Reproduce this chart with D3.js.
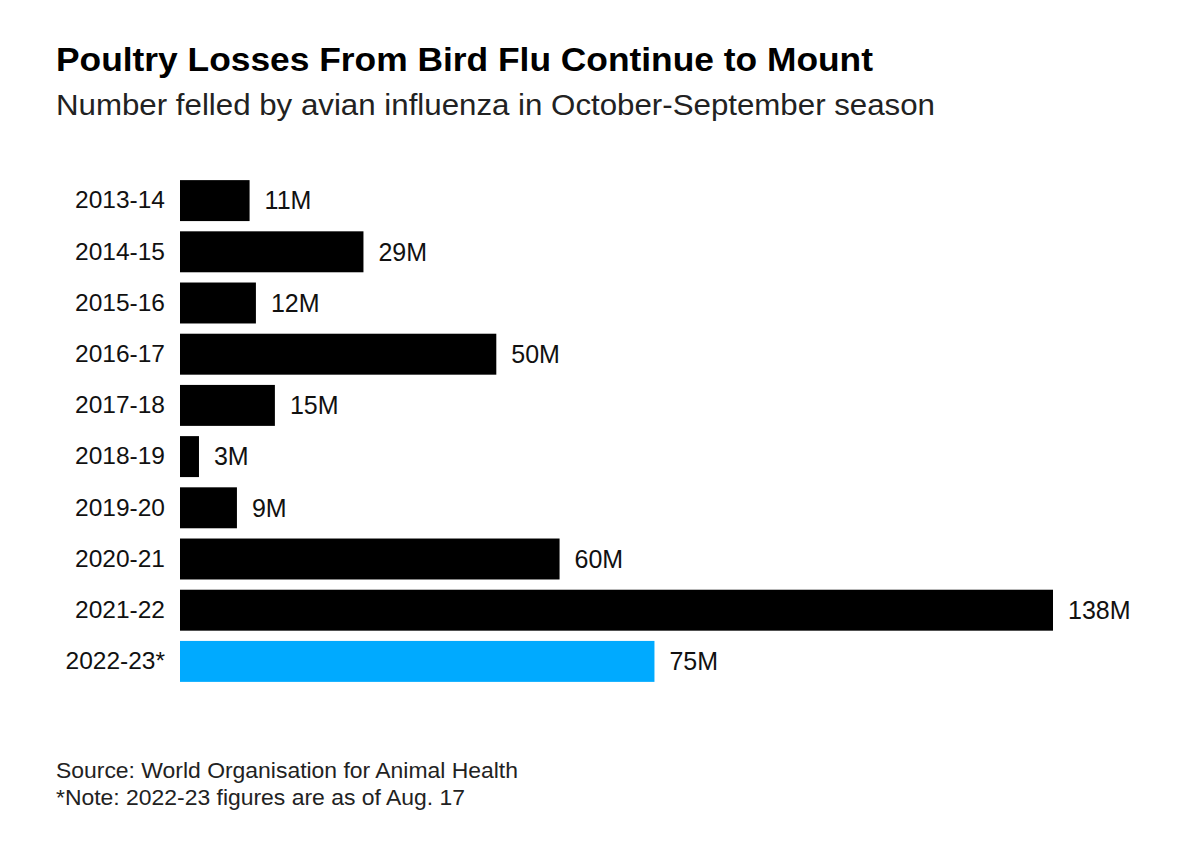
<!DOCTYPE html>
<html><head><meta charset="utf-8">
<script src="https://cdn.jsdelivr.net/npm/d3@7"></script>
<style>
body{margin:0;background:#fff;}
text{font-family:"Liberation Sans",Arial,sans-serif;}
</style></head>
<body>
<svg id="c" width="1200" height="845"></svg>
<script>
const seasons = ["2013-14","2014-15","2015-16","2016-17","2017-18","2018-19","2019-20","2020-21","2021-22","2022-23*"];
const losses = [11,29,12,50,15,3,9,60,138,75];
const highlight = [false,false,false,false,false,false,false,false,false,true];

const svg = d3.select("#c");
svg.append("rect").attr("width",1200).attr("height",845).attr("fill","#fff");

svg.append("text").attr("x",56).attr("y",71).attr("font-size",33).attr("font-weight","bold")
  .attr("fill","#000").attr("textLength",817).attr("lengthAdjust","spacingAndGlyphs")
  .text("Poultry Losses From Bird Flu Continue to Mount");
svg.append("text").attr("x",56).attr("y",115).attr("font-size",29)
  .attr("fill","#222").attr("textLength",879).attr("lengthAdjust","spacingAndGlyphs")
  .text("Number felled by avian influenza in October-September season");

const x = d3.scaleLinear().domain([0,138]).range([180,1053]);
const y = d3.scaleBand().domain(seasons).range([175,687]).paddingInner(0.2).paddingOuter(0.1);

const data = seasons.map((s,i)=>({s,v:losses[i],h:highlight[i]}));

svg.append("g").selectAll("rect").data(data).join("rect")
  .attr("x",x(0)).attr("y",d=>y(d.s)).attr("width",d=>x(d.v)-x(0)).attr("height",y.bandwidth())
  .attr("fill",d=>d.h?"#00aaff":"#000");

const yAxis = d3.axisLeft(y).tickSize(0).tickPadding(15);
const ga = svg.append("g").attr("transform",`translate(${x(0)},0)`).call(yAxis);
ga.select(".domain").remove();
ga.selectAll("text").attr("font-size",24.5).attr("fill","#111").style("font-family","'Liberation Sans',Arial,sans-serif");

svg.append("g").selectAll("text").data(data).join("text")
  .attr("x",d=>x(d.v)+15).attr("y",d=>y(d.s)+y.bandwidth()/2).attr("dy","0.35em")
  .attr("font-size",25).attr("fill","#111").text(d=>d.v+"M");

svg.append("text").attr("x",56).attr("y",778).attr("font-size",22).attr("fill","#222")
  .attr("textLength",462).attr("lengthAdjust","spacingAndGlyphs")
  .text("Source: World Organisation for Animal Health");
svg.append("text").attr("x",56).attr("y",805).attr("font-size",22).attr("fill","#222")
  .attr("textLength",409).attr("lengthAdjust","spacingAndGlyphs")
  .text("*Note: 2022-23 figures are as of Aug. 17");
</script>
</body></html>
